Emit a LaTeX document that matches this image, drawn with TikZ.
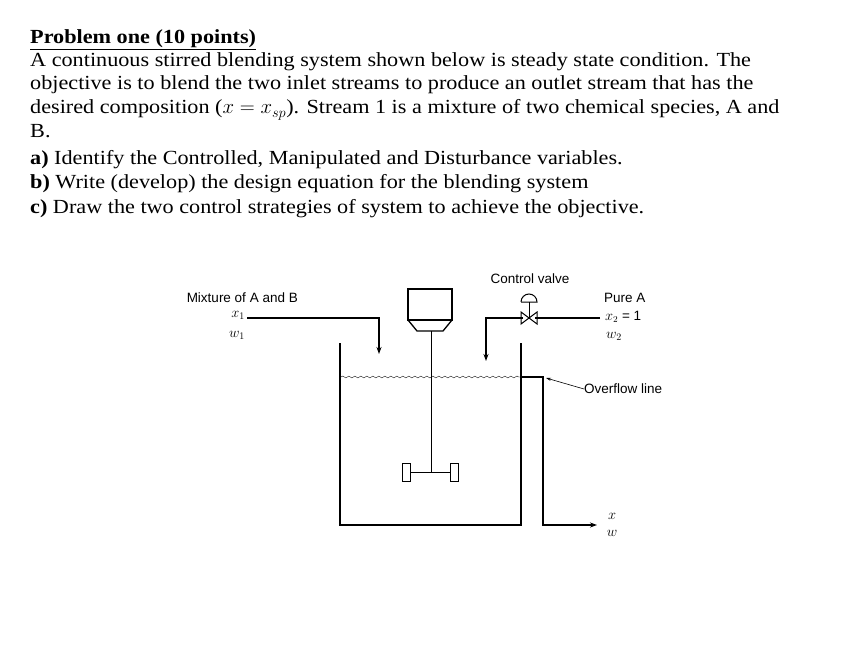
\documentclass[tikz,border=0pt]{standalone}
\usepackage{fontspec}
\setmainfont{Liberation Serif}[FakeStretch=1.11]
\setsansfont{Liberation Sans}
\usetikzlibrary{arrows.meta,decorations.pathmorphing}
\begin{document}
\begin{tikzpicture}[x=1pt,y=-1pt,
  txt/.style={anchor=base west,inner sep=0pt,font=\fontsize{20}{24}\selectfont},
  lbl/.style={inner sep=0pt,font=\sffamily\fontsize{13.5}{15}\selectfont},
  mth/.style={inner sep=0pt,font=\fontsize{14}{16}\selectfont},
  pipe/.style={line width=1.6pt},
  arr/.style={line width=1.1pt,-{Stealth[length=7pt,width=5pt]}}]
\useasboundingbox (0,0) rectangle (862,663);
\node[txt] (t1) at (30,44) {\textbf{\underline{Problem one (10 points)}}};
\node[txt] (t2) at (30,67) {A continuous stirred blending system shown below is steady state condition. The};
\node[txt] (t3) at (30,90) {objective is to blend the two inlet streams to produce an outlet stream that has the};
\node[txt] (t4) at (30,114) {desired composition ($x=x_{sp}$). Stream 1 is a mixture of two chemical species, A and};
\node[txt] (t5) at (30,138) {B.};
\node[txt] (t6) at (30,165) {\textbf{a)} Identify the Controlled, Manipulated and Disturbance variables.};
\node[txt] (t7) at (30,189) {\textbf{b)} Write (develop) the design equation for the blending system};
\node[txt] (t8) at (30,214) {\textbf{c)} Draw the two control strategies of system to achieve the objective.};
% tank
\draw[pipe] (340,343) -- (340,525) -- (521,525) -- (521,343);
\draw[decorate,decoration={snake,amplitude=1pt,segment length=6pt}] (341,377) -- (520,377);
% overflow
\coordinate (of0) at (521,377);
\coordinate (of1) at (543,377);
\coordinate (of2) at (543,525);
\coordinate (out) at (597,525);
\draw[pipe] (of0) -- (of1) -- (of2) -- (545,525);
\draw[arr] (545,525) -- (out);
% motor
\draw[line width=1.3pt] (408,289) rectangle (452,320);
\draw[line width=1.3pt] (408,320) -- (417,331) -- (443,331) -- (452,320);
\draw[line width=1pt] (431,331) -- (431,472);
\draw[line width=1pt] (410,472) -- (450,472);
\draw[line width=1pt] (402,463) rectangle (410,481);
\draw[line width=1pt] (450,463) rectangle (458,481);
% inlet 1
\draw[pipe] (247,318) -- (379,318) -- (379,335);
\draw[arr] (379,334) -- (379,354);
% inlet 2 with valve
\coordinate (v) at (529,318);
\draw[pipe] (600,318) -- (535,318);
\draw[pipe] (523,318) -- (486,318) -- (486,340);
\draw[arr] (486,339) -- (486,361);
\draw[line width=1pt] (521,312) -- (521,324) -- (537,312) -- (537,324) -- cycle;
\draw[line width=1pt] (529,318) -- (529,302);
\draw[line width=1pt] (521,302) -- (537,302) arc (0:-180:8);
% labels
\node[lbl,anchor=east] (mix) at (298,298) {Mixture of A and B};
\node[mth,anchor=east] (x1) at (245,315) {$x_1$};
\node[mth,anchor=east] (w1) at (245,335) {$w_1$};
\node[lbl] (cv) at (530,279) {Control valve};
\node[lbl,anchor=west] (pa) at (604,298) {Pure A};
\node[lbl,anchor=west] (x2) at (605,317) {$x_2$ = 1};
\node[mth,anchor=west] (w2) at (606,336) {$w_2$};
\node[lbl,anchor=west] (ovl) at (584,389) {Overflow line};
\draw[line width=0.6pt,-{Stealth[length=5pt,width=3pt]}] (ovl.west) -- (546,378);
\node[mth] (xo) at (612,516) {$x$};
\node[mth] (wo) at (612,533) {$w$};
\end{tikzpicture}
\end{document}
